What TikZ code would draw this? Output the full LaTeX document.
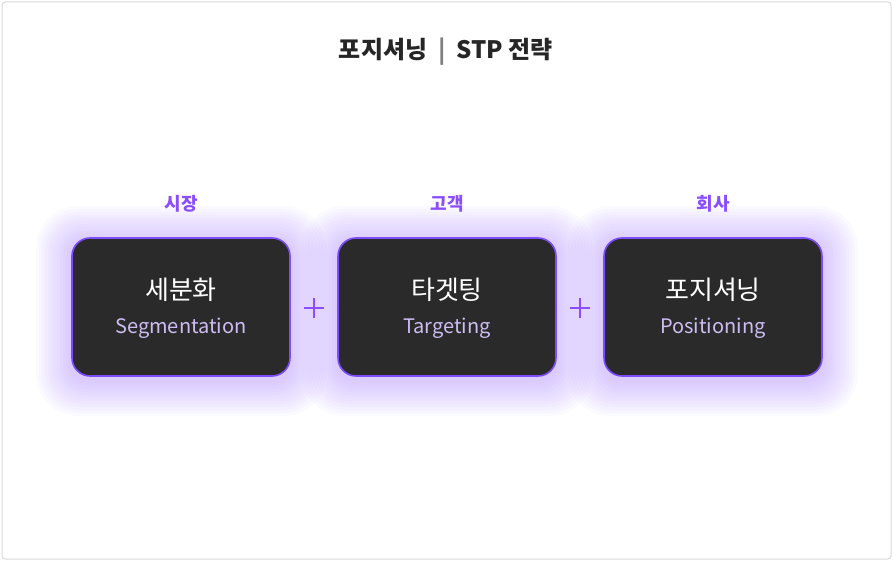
\documentclass[tikz,border=0pt]{standalone}
\usepackage{fontspec}
\setmainfont{Noto Sans CJK KR}
\begin{document}
\begin{tikzpicture}[x=1pt,y=-1pt,
  card/.style={draw=purpleline,line width=1.6pt,fill=cardbg,rounded corners=18pt,minimum width=218pt,minimum height=138pt,inner sep=0pt},
  tag/.style={text=tagc,font=\bfseries\fontsize{18}{20}\selectfont},
  plusline/.style={draw=tagc,line width=1.3pt}]
\definecolor{purpleline}{HTML}{7C4DFF}
\definecolor{cardbg}{HTML}{2A2A2A}
\definecolor{tagc}{HTML}{8A4DFF}
\definecolor{glow}{HTML}{B28CFF}
\definecolor{subc}{HTML}{CDBDF2}
\useasboundingbox (0,0) rectangle (893,561);
\draw[draw=black!15,fill=white,rounded corners=3pt,line width=1pt] (2,2) rectangle (891,559);
\node[font=\bfseries\fontsize{24}{28}\selectfont,text=black!85] (title) at (446,52) {포지셔닝 \ {\color{black!50}\textbar} \ STP 전략};
\foreach \cx/\tg/\ko/\en/\nm in {181/시장/세분화/Segmentation/a,447/고객/타겟팅/Targeting/b,713/회사/포지셔닝/Positioning/c}{
  \foreach \i in {1,...,12}{
    \fill[glow,opacity=0.045,rounded corners={18pt+\i*2pt}] (\cx-109-\i*3,238-\i*3+4) rectangle (\cx+109+\i*3,376+\i*3+4);
  }
  \node[card] (\nm) at (\cx,307) {};
  \node[tag] (t\nm) at (\cx,204) {\tg};
  \node[text=white,font=\fontsize{26}{30}\selectfont] (k\nm) at (\cx,290) {\ko};
  \node[text=subc,font=\fontsize{20}{24}\selectfont] (e\nm) at (\cx,328) {\en};
}
\coordinate (p1) at (314,308);
\coordinate (p2) at (580,308);
\foreach \p in {p1,p2}{
  \draw[plusline] ([xshift=-10pt]\p) -- ([xshift=10pt]\p);
  \draw[plusline] ([yshift=-10pt]\p) -- ([yshift=10pt]\p);
}
\end{tikzpicture}
\end{document}
